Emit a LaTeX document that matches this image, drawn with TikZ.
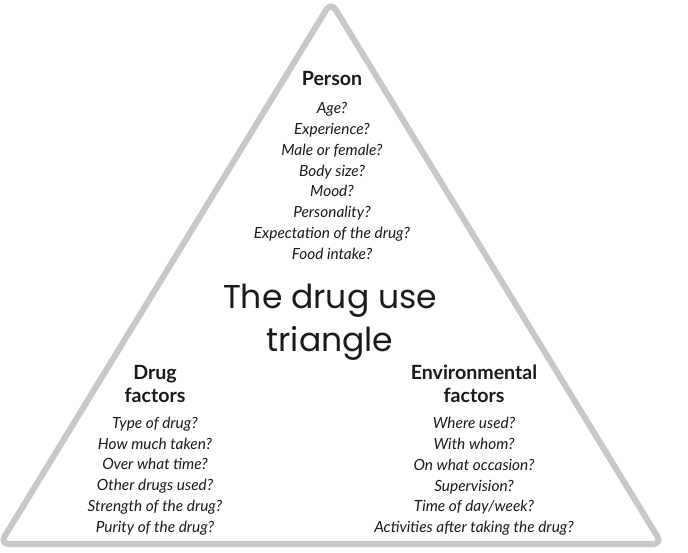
\documentclass[tikz,border=0pt]{standalone}
\usepackage{fontspec}
\setmainfont{Lato}
\newfontfamily\titlefont{Poppins}
\definecolor{edgegray}{HTML}{C8C8C8}
\definecolor{ink}{HTML}{1A1A1A}
\begin{document}
\begin{tikzpicture}[x=1pt,y=-1pt,
  heading/.style={text=ink,align=center,inner sep=0pt,font=\fontsize{19.6}{23}\selectfont\bfseries},
  items/.style={text=ink,align=center,inner sep=0pt,font=\fontsize{15.4}{20.8}\selectfont\itshape},
  bigtitle/.style={text=ink,align=center,inner sep=0pt,font=\titlefont\fontsize{33}{43}\selectfont}]
\useasboundingbox[fill=white] (0,0) rectangle (688,553);
\coordinate (apex) at (331,2);
\coordinate (bl) at (0,544);
\coordinate (br) at (662,544);
\draw[edgegray,line width=6pt,rounded corners=9pt,line join=round] (apex) -- (br) -- (bl) -- cycle;
\node[heading] (person) at (332,78) {Person};
\node[items] (personlist) at (332,181) {Age?\\Experience?\\Male or female?\\Body size?\\Mood?\\Personality?\\Expectation of the drug?\\Food intake?};
\node[bigtitle] (title) at (330,322) {The drug use\\triangle};
\node[heading] (drug) at (155,384) {Drug\\factors};
\node[items] (druglist) at (155,476) {Type of drug?\\How much taken?\\Over what time?\\Other drugs used?\\Strength of the drug?\\Purity of the drug?};
\node[heading] (env) at (474,384) {Environmental\\factors};
\node[items] (envlist) at (474,476.5) {Where used?\\With whom?\\On what occasion?\\Supervision?\\Time of day/week?\\Activities after taking the drug?};
\end{tikzpicture}
\end{document}
